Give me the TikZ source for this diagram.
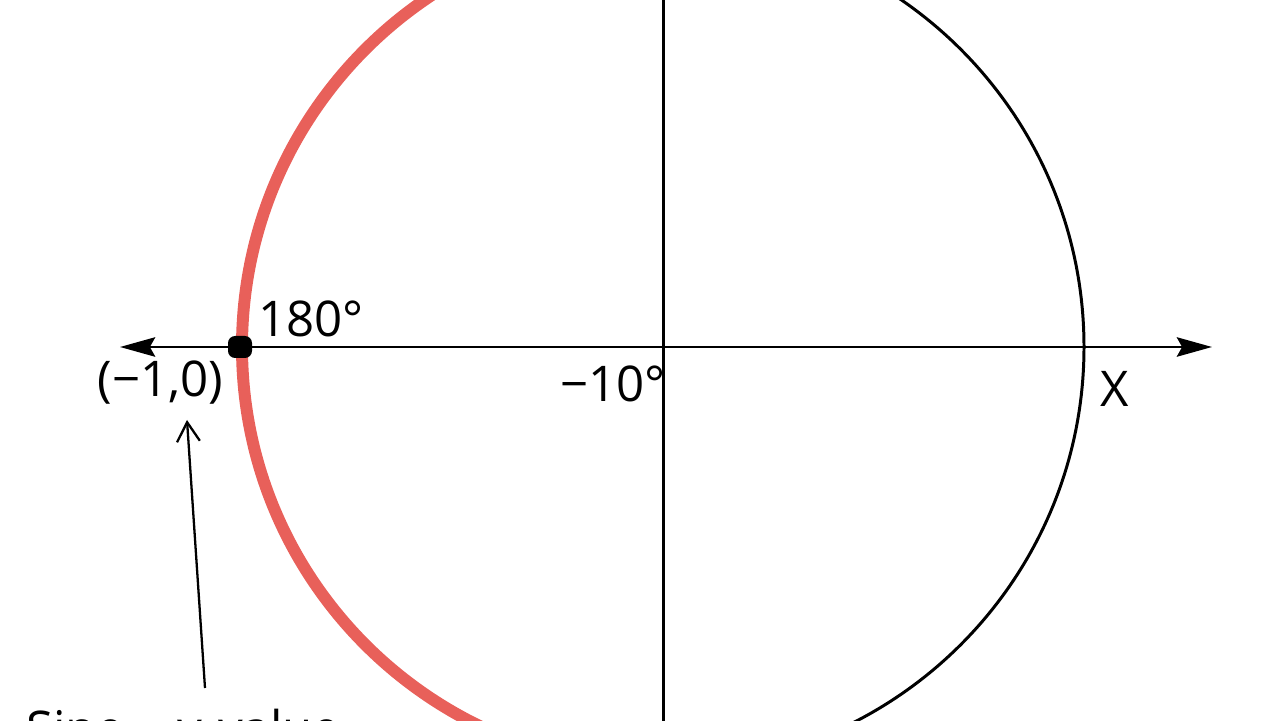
\documentclass[tikz,border=0pt]{standalone}
\usepackage{fontspec}
\setmainfont{Open Sans}
\usepackage{xcolor}
\usepackage{tikz}
\usetikzlibrary{arrows.meta}
\usetikzlibrary{positioning}
\definecolor{salmon}{RGB}{232,96,90}

\begin{document}
\begin{tikzpicture}[x=0.02cm,y=0.02cm,line width=1.7pt]
\tikzset{
    label/.style = {anchor=base west, inner sep=0pt, font=\fontsize{28}{33}\selectfont},
    axis/.style  = {{Stealth[length=20pt,width=11pt,inset=3pt]}-{Stealth[length=20pt,width=11pt,inset=3pt]}},
    pointer/.style = {-{Straight Barb[length=11pt,width=13pt]}, line width=1.3pt}
}
\useasboundingbox (0,0) rectangle (1280,720);
\clip (0,0) rectangle (1280,720);
\coordinate (O) at (663,373);
% unit circle and the red half
\draw (O) circle [radius=421];
\draw[salmon, line width=6.8pt] ([shift={(90:421)}]O) arc [start angle=90, end angle=270, radius=421];
% axes
\coordinate (xl) at (120,373);
\coordinate (xr) at (1212,373);
\draw[axis] (xl) -- (xr);
\draw (663,740) -- (663,-20);
\node [rounded corners=4pt, fill=black, inner sep=0pt, minimum width=24*0.569pt, minimum height=22*0.569pt] (pt) at (240,373) {};
% labels
\node [label] (deg) at (257,383) {180°};
\node [label] (minus) at (96,323) {(−1,0)};
\node [label] (ten) at (559,318) {−10°};
\node [label] (xlab) at (1099,313) {X};
\node [label] (sine) at (25,-26) {Sine = y-value};
\coordinate (tail) at (205,32);
\coordinate (head) at (187,300);
\draw[pointer] (tail) -- (head);
\end{tikzpicture}
\end{document}
